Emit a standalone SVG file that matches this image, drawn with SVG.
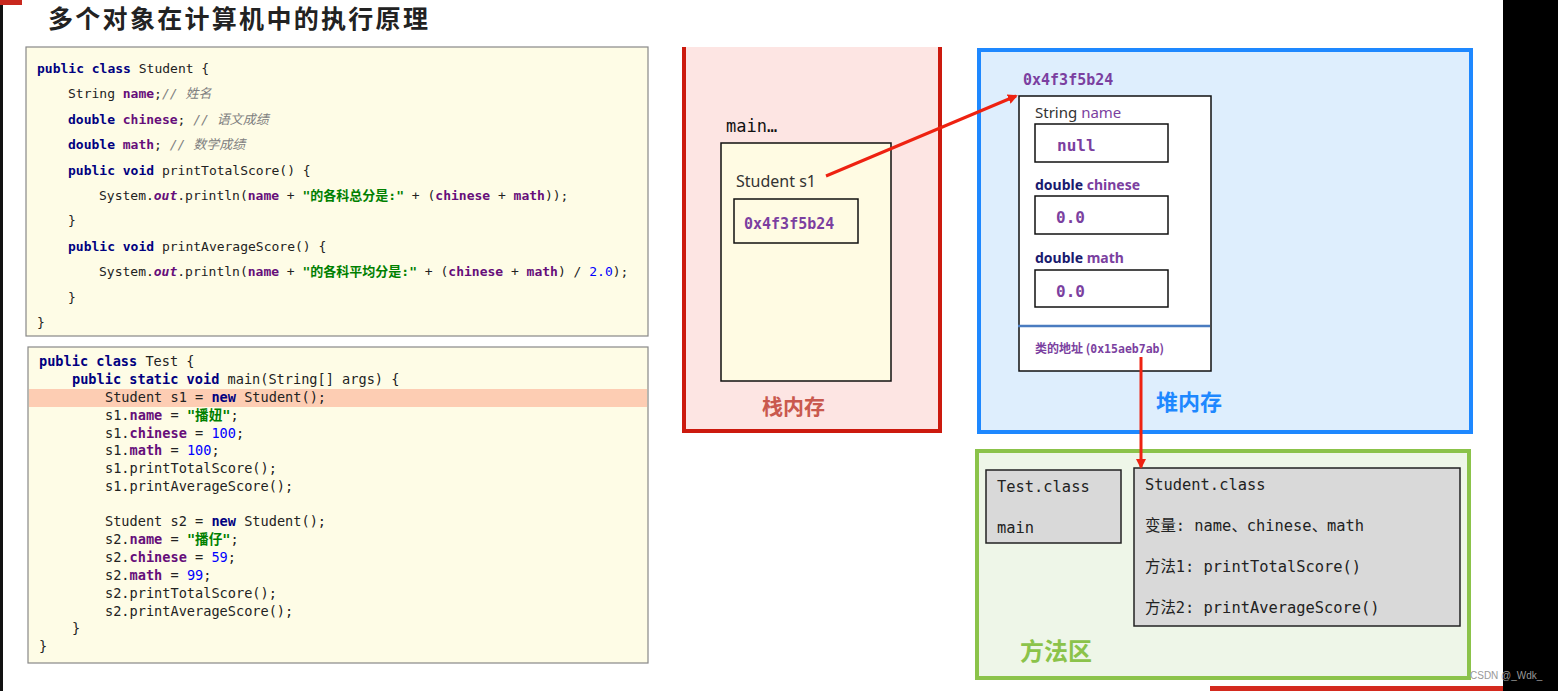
<svg xmlns="http://www.w3.org/2000/svg" width="1558" height="691" viewBox="0 0 1558 691">
<defs>
<style>
.code{font-family:"DejaVu Sans Mono","Noto Sans CJK SC",monospace;font-size:13px;fill:#222}
.code2{font-family:"DejaVu Sans Mono","Noto Sans CJK SC",monospace;font-size:13.6px;fill:#222}
.kw{fill:#000080;font-weight:bold}
.fd{fill:#660e7a;font-weight:bold}
.st{fill:#008000;font-weight:bold}
.nm{fill:#0000ff}
.cm{fill:#808080;font-style:italic}
.it{font-style:italic;fill:#660e7a;font-weight:bold}
.mono{font-family:"DejaVu Sans Mono","Noto Sans CJK SC",monospace}
.sans{font-family:"Noto Sans","DejaVu Sans","Noto Sans CJK SC",sans-serif}
.cjk{font-family:"Noto Sans CJK SC",sans-serif;font-weight:bold}
.val{font-family:"DejaVu Sans Mono",monospace;font-weight:bold;fill:#7b3fa0}
.cls{font-family:"DejaVu Sans Mono","Noto Sans CJK SC",monospace;font-size:15.4px;fill:#222}
</style>
<marker id="ah" markerWidth="10" markerHeight="10" refX="8" refY="5" orient="auto" markerUnits="userSpaceOnUse"><path d="M0,0 L10,5 L0,10 z" fill="#ee2211"/></marker>
</defs>
<rect width="1558" height="691" fill="#fff"/>
<rect x="0" y="0" width="3" height="691" fill="#111"/>
<rect x="0" y="0" width="22" height="5" fill="#c8281e"/>
<rect x="1503" y="0" width="55" height="691" fill="#000"/>
<rect x="1210" y="686" width="293" height="5" fill="#d42a1e"/>
<text x="48" y="28" class="cjk" font-size="25" letter-spacing="2.3" fill="#222">多个对象在计算机中的执行原理</text>

<g id="code-student">
<rect x="26" y="47" width="622" height="289" fill="#fefce6" stroke="#888" stroke-width="1.2"/>
<text class="code" x="37" y="73"><tspan class="kw">public class</tspan> Student {</text>
<text class="code" x="68" y="98">String <tspan class="fd">name</tspan>;<tspan class="cm">// 姓名</tspan></text>
<text class="code" x="68" y="124"><tspan class="kw">double</tspan> <tspan class="fd">chinese</tspan>; <tspan class="cm">// 语文成绩</tspan></text>
<text class="code" x="68" y="149"><tspan class="kw">double</tspan> <tspan class="fd">math</tspan>; <tspan class="cm">// 数学成绩</tspan></text>
<text class="code" x="68" y="175"><tspan class="kw">public void</tspan> printTotalScore() {</text>
<text class="code" x="99" y="200">System.<tspan class="it">out</tspan>.println(<tspan class="fd">name</tspan> + <tspan class="st">"的各科总分是:"</tspan> + (<tspan class="fd">chinese</tspan> + <tspan class="fd">math</tspan>));</text>
<text class="code" x="68" y="225">}</text>
<text class="code" x="68" y="251"><tspan class="kw">public void</tspan> printAverageScore() {</text>
<text class="code" x="99" y="276">System.<tspan class="it">out</tspan>.println(<tspan class="fd">name</tspan> + <tspan class="st">"的各科平均分是:"</tspan> + (<tspan class="fd">chinese</tspan> + <tspan class="fd">math</tspan>) / <tspan class="nm">2.0</tspan>);</text>
<text class="code" x="68" y="302">}</text>
<text class="code" x="37" y="327">}</text>
</g>

<g id="code-test">
<rect x="28" y="347" width="620" height="316" fill="#fefce6" stroke="#888" stroke-width="1.2"/>
<rect x="29" y="389" width="618" height="18" fill="#fdcdb3"/>
<text class="code2" x="39" y="366"><tspan class="kw">public class</tspan> Test {</text>
<text class="code2" x="72" y="384"><tspan class="kw">public static void</tspan> main(String[] args) {</text>
<text class="code2" x="105" y="402">Student s1 = <tspan class="kw">new</tspan> Student();</text>
<text class="code2" x="105" y="420">s1.<tspan class="fd">name</tspan> = <tspan class="st">"播妞"</tspan>;</text>
<text class="code2" x="105" y="438">s1.<tspan class="fd">chinese</tspan> = <tspan class="nm">100</tspan>;</text>
<text class="code2" x="105" y="455">s1.<tspan class="fd">math</tspan> = <tspan class="nm">100</tspan>;</text>
<text class="code2" x="105" y="473">s1.printTotalScore();</text>
<text class="code2" x="105" y="491">s1.printAverageScore();</text>
<text class="code2" x="105" y="526">Student s2 = <tspan class="kw">new</tspan> Student();</text>
<text class="code2" x="105" y="544">s2.<tspan class="fd">name</tspan> = <tspan class="st">"播仔"</tspan>;</text>
<text class="code2" x="105" y="562">s2.<tspan class="fd">chinese</tspan> = <tspan class="nm">59</tspan>;</text>
<text class="code2" x="105" y="580">s2.<tspan class="fd">math</tspan> = <tspan class="nm">99</tspan>;</text>
<text class="code2" x="105" y="598">s2.printTotalScore();</text>
<text class="code2" x="105" y="616">s2.printAverageScore();</text>
<text class="code2" x="72" y="633">}</text>
<text class="code2" x="39" y="651">}</text>
</g>

<g id="stack">
<rect x="684" y="47" width="256" height="384" fill="#fde5e3"/>
<path d="M684,47 V431 H940 V47" fill="none" stroke="#cc1a0e" stroke-width="4"/>
<text x="726" y="132" class="mono" font-size="17" fill="#111">main…</text>
<rect x="721" y="143" width="170" height="238" fill="#fffbe3" stroke="#111" stroke-width="1.5"/>
<text x="736" y="187" class="sans" font-size="16" fill="#333">Student  s1</text>
<rect x="734" y="199" width="124" height="44" fill="#fffbe3" stroke="#111" stroke-width="1.5"/>
<text x="744" y="229" class="val" font-size="15">0x4f3f5b24</text>
<text x="762" y="414" class="cjk" font-size="21" fill="#c9594e">栈内存</text>
</g>

<g id="heap">
<rect x="979" y="50" width="492" height="382" fill="#deeefd" stroke="#1e88ff" stroke-width="4"/>
<text x="1023" y="85" class="val" font-size="15">0x4f3f5b24</text>
<rect x="1019" y="96" width="192" height="275" fill="#fff" stroke="#111" stroke-width="1.5"/>
<text x="1035" y="118" class="sans" font-size="15" fill="#333">String <tspan fill="#7b3fa0">name</tspan></text>
<rect x="1035" y="124" width="133" height="38" fill="#fff" stroke="#111" stroke-width="1.5"/>
<text x="1057" y="151" class="val" font-size="16">null</text>
<text x="1035" y="190" class="sans" font-size="14" font-weight="bold" fill="#1a1a6e">double <tspan fill="#7b3fa0">chinese</tspan></text>
<rect x="1035" y="196" width="133" height="38" fill="#fff" stroke="#111" stroke-width="1.5"/>
<text x="1056" y="223" class="val" font-size="16">0.0</text>
<text x="1035" y="263" class="sans" font-size="14" font-weight="bold" fill="#1a1a6e">double <tspan fill="#7b3fa0">math</tspan></text>
<rect x="1035" y="270" width="133" height="37" fill="#fff" stroke="#111" stroke-width="1.5"/>
<text x="1056" y="297" class="val" font-size="16">0.0</text>
<line x1="1018" y1="326" x2="1210" y2="326" stroke="#4a7cc0" stroke-width="2.5"/>
<text x="1035" y="353" font-size="12" font-weight="bold" fill="#7b3fa0" font-family="Noto Sans CJK SC,sans-serif">类的地址 (<tspan font-family="DejaVu Sans Mono,monospace" font-size="11.5">0x15aeb7ab</tspan>)</text>
<text x="1156" y="410" class="cjk" font-size="22" fill="#1e88ff">堆内存</text>
</g>

<g id="method-area">
<rect x="977" y="451" width="492" height="227" fill="#eef6e8" stroke="#8bc34a" stroke-width="4"/>
<rect x="986" y="470" width="135" height="73" fill="#d9d9d9" stroke="#222" stroke-width="1.5"/>
<text x="997" y="492" class="cls">Test.class</text>
<text x="997" y="533" class="cls">main</text>
<rect x="1134" y="468" width="326" height="158" fill="#d9d9d9" stroke="#222" stroke-width="1.5"/>
<text x="1145" y="490" class="cls">Student.class</text>
<text x="1145" y="531" class="cls">变量: name、chinese、math</text>
<text x="1145" y="572" class="cls">方法1: printTotalScore()</text>
<text x="1145" y="613" class="cls">方法2: printAverageScore()</text>
<text x="1020" y="660" class="cjk" font-size="24" fill="#8bc34a">方法区</text>
</g>

<g id="connectors">
<line x1="826" y1="176" x2="1016" y2="96" stroke="#ee2211" stroke-width="3" marker-end="url(#ah)"/>
<line x1="1141" y1="357" x2="1141" y2="467" stroke="#ee2211" stroke-width="3" marker-end="url(#ah)"/>
</g>
<text x="1470" y="679" font-family="Liberation Sans,sans-serif" font-size="10" fill="#999">CSDN @_Wdk_</text>
</svg>
